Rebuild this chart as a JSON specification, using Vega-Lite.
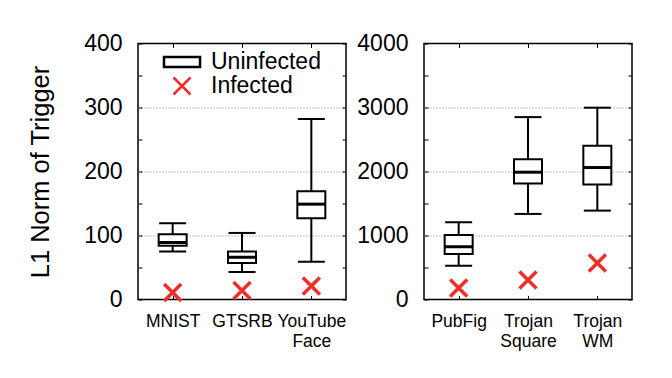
{
  "$schema": "https://vega.github.io/schema/vega-lite/v6.json",
  "padding": {"left": 27, "top": 31.5, "right": 5, "bottom": 5},
  "background": "white",
  "datasets": {
    "left": [
      {"cat": "MNIST", "lo": 75, "q1": 84, "med": 89, "q3": 102, "hi": 119, "inf": 11, "series": "Infected"},
      {"cat": "GTSRB", "lo": 43, "q1": 57, "med": 66, "q3": 75, "hi": 104, "inf": 14, "series": "Infected"},
      {"cat": "YouTube Face", "lo": 59, "q1": 127, "med": 149, "q3": 169, "hi": 282, "inf": 21, "series": "Infected"}
    ],
    "right": [
      {"cat": "PubFig", "lo": 528, "q1": 711, "med": 825, "q3": 1008, "hi": 1206, "inf": 178, "series": "Infected"},
      {"cat": "Trojan Square", "lo": 1337, "q1": 1812, "med": 1989, "q3": 2192, "hi": 2850, "inf": 304, "series": "Infected"},
      {"cat": "Trojan WM", "lo": 1389, "q1": 1796, "med": 2062, "q3": 2402, "hi": 2997, "inf": 570, "series": "Infected"}
    ]
  },
  "hconcat": [
    {
      "width": 208,
      "height": 256,
      "data": {"name": "left"},
      "layer": [
        {
          "mark": {"type": "rule", "color": "black", "strokeWidth": 2},
          "encoding": {
            "x": {"field": "cat", "type": "nominal", "sort": null,
                  "scale": {"type": "point", "padding": 0.5, "domain": ["MNIST", "GTSRB", "YouTube Face"]},
                  "axis": {"orient": "bottom", "title": null, "labelAngle": 0, "labelExpr": "split(datum.label, ' ')", "labelPadding": 17, "labelFontSize": 17.5, "labelLineHeight": 19.5, "labelBaseline": "top"}},
            "y": {"field": "lo", "type": "quantitative",
                  "scale": {"domain": [0, 400], "nice": false},
                  "axis": {"orient": "left", "title": "L1 Norm of Trigger", "titlePadding": 30, "titleFontSize": 25.5,
                           "values": [0, 50, 100, 150, 200, 250, 300, 350, 400],
                           "labelExpr": "datum.value % 100 === 0 ? datum.label : ''",
                           "labelPadding": 20, "grid": true,
                           "gridOpacity": {"condition": {"test": "datum.value % 100 === 0 && datum.value > 0 && datum.value < 400", "value": 1}, "value": 0}}},
            "y2": {"field": "hi"}
          }
        },
        {
          "mark": {"type": "bar", "width": 28, "fill": "white", "stroke": "black", "strokeWidth": 2, "opacity": 1},
          "encoding": {
            "x": {"field": "cat", "type": "nominal", "sort": null, "axis": {"orient": "top", "labels": false, "title": null}},
            "y": {"field": "q1", "type": "quantitative", "axis": {"orient": "right", "labels": false, "title": null, "grid": false, "values": [0, 50, 100, 150, 200, 250, 300, 350, 400]}},
            "y2": {"field": "q3"}
          }
        },
        {
          "mark": {"type": "tick", "color": "black", "size": 28, "thickness": 3, "opacity": 1},
          "encoding": {
            "x": {"field": "cat", "type": "nominal", "sort": null, "axis": null},
            "y": {"field": "med", "type": "quantitative", "axis": null}
          }
        },
        {
          "mark": {"type": "tick", "color": "black", "size": 27, "thickness": 2, "opacity": 1},
          "encoding": {
            "x": {"field": "cat", "type": "nominal", "sort": null, "axis": null},
            "y": {"field": "lo", "type": "quantitative", "axis": null}
          }
        },
        {
          "mark": {"type": "tick", "color": "black", "size": 27, "thickness": 2, "opacity": 1},
          "encoding": {
            "x": {"field": "cat", "type": "nominal", "sort": null, "axis": null},
            "y": {"field": "hi", "type": "quantitative", "axis": null}
          }
        },
        {
          "mark": {"type": "point", "filled": false, "strokeWidth": 3.5, "size": 289, "opacity": 1},
          "encoding": {
            "x": {"field": "cat", "type": "nominal", "sort": null, "axis": null},
            "y": {"field": "inf", "type": "quantitative", "axis": null},
            "shape": {"field": "series", "type": "nominal",
                      "scale": {"domain": ["Uninfected", "Infected"], "range": ["M-2.12,-0.59H2.12V0.59H-2.12Z", "M-1,-1L1,1M-1,1L1,-1"]},
                      "legend": {"orient": "none", "legendX": 32.5, "legendY": 7, "title": null, "padding": 0, "labelFontSize": 23, "labelOffset": 17.5, "symbolSize": 289, "symbolStrokeWidth": 2.5, "rowPadding": -2, "labelColor": "black", "symbolFillColor": "transparent"}},
            "color": {"field": "series", "type": "nominal",
                      "scale": {"domain": ["Uninfected", "Infected"], "range": ["black", "#ec3027"]},
                      "legend": {"orient": "none", "legendX": 32.5, "legendY": 7, "title": null, "padding": 0, "labelFontSize": 23, "labelOffset": 17.5, "symbolSize": 289, "symbolStrokeWidth": 2.5, "rowPadding": -2, "labelColor": "black", "symbolFillColor": "transparent"}}
          }
        }
      ]
    },
    {
      "width": 208,
      "height": 256,
      "data": {"name": "right"},
      "layer": [
        {
          "mark": {"type": "rule", "color": "black", "strokeWidth": 2},
          "encoding": {
            "x": {"field": "cat", "type": "nominal", "sort": null,
                  "scale": {"type": "point", "padding": 0.5, "domain": ["PubFig", "Trojan Square", "Trojan WM"]},
                  "axis": {"orient": "bottom", "title": null, "labelAngle": 0, "labelExpr": "split(datum.label, ' ')", "labelPadding": 17, "labelFontSize": 17.5, "labelLineHeight": 19.5, "labelBaseline": "top"}},
            "y": {"field": "lo", "type": "quantitative",
                  "scale": {"domain": [0, 4000], "nice": false},
                  "axis": {"orient": "left", "title": null,
                           "values": [0, 500, 1000, 1500, 2000, 2500, 3000, 3500, 4000],
                           "labelExpr": "datum.value % 1000 === 0 ? datum.label : ''",
                           "format": "d",
                           "labelPadding": 20, "grid": true,
                           "gridOpacity": {"condition": {"test": "datum.value % 1000 === 0 && datum.value > 0 && datum.value < 4000", "value": 1}, "value": 0}}},
            "y2": {"field": "hi"}
          }
        },
        {
          "mark": {"type": "bar", "width": 28, "fill": "white", "stroke": "black", "strokeWidth": 2, "opacity": 1},
          "encoding": {
            "x": {"field": "cat", "type": "nominal", "sort": null, "axis": {"orient": "top", "labels": false, "title": null}},
            "y": {"field": "q1", "type": "quantitative", "axis": {"orient": "right", "labels": false, "title": null, "grid": false, "values": [0, 500, 1000, 1500, 2000, 2500, 3000, 3500, 4000]}},
            "y2": {"field": "q3"}
          }
        },
        {
          "mark": {"type": "tick", "color": "black", "size": 28, "thickness": 3, "opacity": 1},
          "encoding": {
            "x": {"field": "cat", "type": "nominal", "sort": null, "axis": null},
            "y": {"field": "med", "type": "quantitative", "axis": null}
          }
        },
        {
          "mark": {"type": "tick", "color": "black", "size": 27, "thickness": 2, "opacity": 1},
          "encoding": {
            "x": {"field": "cat", "type": "nominal", "sort": null, "axis": null},
            "y": {"field": "lo", "type": "quantitative", "axis": null}
          }
        },
        {
          "mark": {"type": "tick", "color": "black", "size": 27, "thickness": 2, "opacity": 1},
          "encoding": {
            "x": {"field": "cat", "type": "nominal", "sort": null, "axis": null},
            "y": {"field": "hi", "type": "quantitative", "axis": null}
          }
        },
        {
          "mark": {"type": "point", "filled": false, "strokeWidth": 3.5, "size": 289, "opacity": 1, "shape": "M-1,-1L1,1M-1,1L1,-1", "color": "#ec3027"},
          "encoding": {
            "x": {"field": "cat", "type": "nominal", "sort": null, "axis": null},
            "y": {"field": "inf", "type": "quantitative", "axis": null}
          }
        }
      ]
    }
  ],
  "spacing": 78,
  "bounds": "flush",
  "resolve": {"scale": {"color": "independent", "shape": "independent"}},
  "config": {
    "font": "Liberation Sans",
    "view": {"stroke": "black", "strokeWidth": 1.5},
    "axis": {
      "domain": false,
      "grid": false,
      "tickSize": -4,
      "tickColor": "black",
      "tickWidth": 1,
      "labelFont": "Liberation Sans",
      "labelFontSize": 23,
      "labelColor": "black",
      "labelOverlap": false,
      "labelFlush": false,
      "titleFont": "Liberation Sans",
      "titleFontSize": 23,
      "titleFontWeight": "normal",
      "titleColor": "black",
      "gridColor": "#888888",
      "gridDash": [1, 2],
      "gridWidth": 1
    },
    "legend": {"labelFont": "Liberation Sans"}
  }
}
